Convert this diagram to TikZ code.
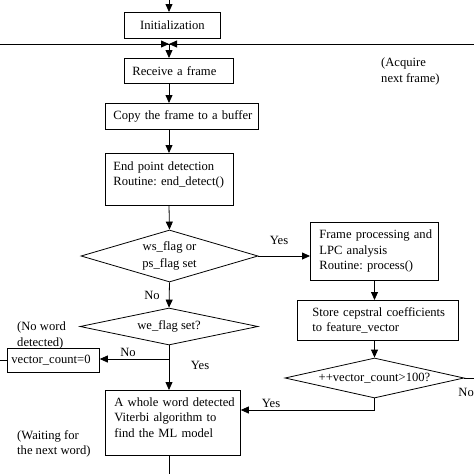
\documentclass[tikz,border=0pt]{standalone}
\usepackage{fontspec}
\setmainfont{Liberation Serif}
\frenchspacing
\usetikzlibrary{arrows.meta,shapes.geometric}
\tikzset{
  ln/.style={line width=0.8pt},
  arr/.style={ln,-{Triangle[length=8pt,width=7pt]}},
  box/.style={draw,ln,rectangle,anchor=north west,inner xsep=8pt,inner ysep=0pt,align=left},
  dia/.style={draw,ln,diamond,inner sep=0pt,align=center},
  lbl/.style={inner sep=0pt,align=left}
}
\begin{document}
\begin{tikzpicture}[x=1pt,y=-1pt,font=\fontsize{12.6}{15.5}\selectfont\frenchspacing]
\useasboundingbox (0,0) rectangle (474,474);
% boxes
\node[box,minimum width=96pt,minimum height=26pt,text width=80pt,align=center] (init) at (124,12) {\mbox{Initialization}};
\node[box,minimum width=109pt,minimum height=25pt,text width=93pt] (recv) at (124,58) {\mbox{Receive a frame}};
\node[box,minimum width=153pt,minimum height=26pt,text width=137pt] (copy) at (105,103) {\mbox{Copy the frame to a buffer}};
\node[box,minimum width=128pt,minimum height=52pt,text width=112pt] (endp) at (105,153) {\mbox{End point detection}\\\mbox{Routine: end\_detect()}\\[-4pt]\mbox{}};
\node[dia,aspect=3.4,minimum width=177pt,minimum height=52pt] (d1) at (169.5,256) {ws\_flag or\\[2pt]ps\_flag set};
\node[box,minimum width=128pt,minimum height=58pt,text width=110pt,inner xsep=9pt] (frame) at (310,222) {\mbox{Frame processing and}\\\mbox{LPC analysis}\\\mbox{Routine: process()}};
\node[box,minimum width=161pt,minimum height=40pt,text width=131pt,inner xsep=15pt] (store) at (297,300) {\mbox{Store cepstral coefficients}\\\mbox{to feature\_vector}};
\node[dia,aspect=4.5,minimum width=179pt,minimum height=40pt] (d3) at (374.5,378) {++vector\_count>100?};
\node[dia,aspect=4.8,minimum width=178pt,minimum height=37pt] (d2) at (169,326.5) {we\_flag set?};
\node[box,minimum width=92pt,minimum height=24pt,text width=84pt,inner xsep=4pt] (vc) at (7,348) {\mbox{vector\_count=0}};
\node[box,minimum width=135pt,minimum height=65pt,text width=117pt,inner xsep=9pt] (whole) at (105,390) {\mbox{A whole word detected}\\\mbox{Viterbi algorithm to}\\\mbox{find the ML model}\\[-4pt]\mbox{}};
% coordinates
\coordinate (top) at (169,0);
\coordinate (hl) at (0,44);
\coordinate (hr) at (474,44);
\coordinate (hm) at (169,44);
\coordinate (vcin) at (0,360);
\coordinate (d3out) at (474,378);
\coordinate (bot) at (169,474);
\coordinate (d3turn) at (374.5,410);
\coordinate (br) at (169,359);
% connectors
\draw[arr] (top) -- (init.north -| top);
\draw[ln] (hl) -- (hr);
\draw[arr] (hl) -- (hm);
\draw[arr] (hr) -- (hm);
\draw[arr] (hm) -- (recv.north -| hm);
\draw[arr] (recv.south -| hm) -- (copy.north -| hm);
\draw[arr] (copy.south -| hm) -- (endp.north -| hm);
\draw[arr] (endp.south -| hm) -- (d1.north);
\draw[arr] (d1.east) -- (frame.west |- d1.east);
\draw[arr] (frame.south -| d3.north) -- (store.north -| d3.north);
\draw[arr] (store.south -| d3.north) -- (d3.north);
\draw[arr] (d1.south) -- (d2.north);
\draw[arr] (d2.south) -- (whole.north -| d2.south);
\draw[arr] (br) -- (vc.east |- br);
\draw[ln] (vcin) -- (vc.west |- vcin);
\draw[ln] (d3.east) -- (d3out);
\draw[arr] (d3.south) -- (d3turn) -- (whole.east |- d3turn);
\draw[ln] (whole.south -| hm) -- (bot);
% labels
\node[lbl,anchor=center] (yes1) at (279,240) {Yes};
\node[lbl,anchor=center] (no1) at (152,295) {No};
\node[lbl,anchor=center] (no2) at (128,352) {No};
\node[lbl,anchor=center] (yes2) at (200,365) {Yes};
\node[lbl,anchor=center] (yes3) at (271,403) {Yes};
\node[lbl,anchor=east] (no3) at (474,392) {No};
\node[lbl,anchor=north west] (acq) at (381,58) {(Acquire\\next frame)};
\node[lbl,anchor=north west] (noword) at (17,322) {(No word\\detected)};
\node[lbl,anchor=north west] (wait) at (17,430) {(Waiting for\\the next word)};
\end{tikzpicture}
\end{document}
